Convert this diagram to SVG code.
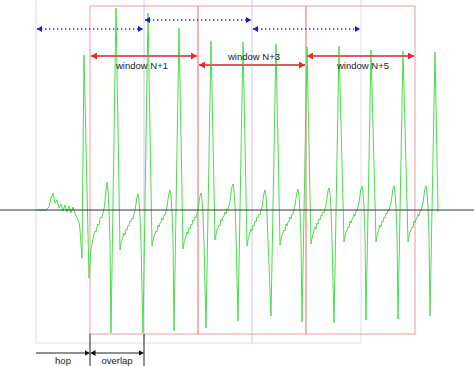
<svg xmlns="http://www.w3.org/2000/svg" width="474" height="366" viewBox="0 0 474 366">
<style>
.bw{fill:none;stroke:#dcdcf4;stroke-width:1}
.rw{fill:none;stroke:#f29a9a;stroke-width:1}
.sig{fill:none;stroke:#4ddc4d;stroke-width:1;stroke-linejoin:round}
.ra{stroke:#e25a5a;stroke-width:2;marker-start:url(#mr);marker-end:url(#mr)}
.ba{stroke:#2a2ad8;stroke-width:1.3;stroke-dasharray:1.3 2.7;marker-start:url(#mb);marker-end:url(#mb)}
.ka{stroke:#222;stroke-width:1}
.t{font-family:"Liberation Sans",Arial,sans-serif;font-size:9.5px;fill:#222;text-anchor:middle}
</style>
<defs>
<marker id="mr" markerUnits="userSpaceOnUse" markerWidth="7" markerHeight="7" refX="6" refY="3.5" orient="auto-start-reverse"><path d="M0,0 L6,3.5 L0,7 z" fill="#e82828"/></marker>
<marker id="mb" markerUnits="userSpaceOnUse" markerWidth="6" markerHeight="6" refX="5" refY="3" orient="auto-start-reverse"><path d="M0,0 L5,3 L0,6 z" fill="#1a1ad0"/></marker>
<marker id="mk" markerUnits="userSpaceOnUse" markerWidth="6" markerHeight="6" refX="5" refY="3" orient="auto-start-reverse"><path d="M0,0 L5,3 L0,6 z" fill="#111"/></marker>
</defs>
<rect width="474" height="366" fill="#fff"/>
<g id="blue-windows">
<rect class="bw" x="36" y="-2" width="108" height="345"/>
<rect class="bw" x="144" y="-2" width="108" height="345"/>
<rect class="bw" x="252" y="-2" width="109" height="345"/>
</g>
<g id="red-windows">
<rect class="rw" x="90" y="6" width="108" height="328"/>
<rect class="rw" x="198" y="6" width="108" height="328"/>
<rect class="rw" x="306" y="6" width="109" height="328"/>
</g>
<g id="signal">
<path class="sig" d="M36,210 L46,210 L49,207 L51,198 L53,193 L55,203 L57,200 L59,208 L61,204 L63,211 L65,205 L67,212 L69,206 L71,213 L73,207 L75,213 L77,218 L79,222 L80,230 L82,258 L84,55 L89,278 L91,250 L93,238 l1,-4 1,-3 1,1 1,-5 1,-3 1,1 1,-6 1,-2 1,1 1,-5 1,-4 1,-8 1,-10 1,-9 1,8 1,20 1,30 L111,333 L116,8 L120,250 l1,-6 1,-4 1,-3 1,-4 1,2 1,-6 1,1 1,-5 1,1 1,-5 1,1 1,-4 1,1 1,-5 1,-3 1,-7 1,-7 1,-3 1,6 1,16 1,28 L143,333 L148,13 L152,246 l1,-5 1,-5 1,-2 1,-3 1,1 1,-7 1,2 1,-4 1,-1 1,-4 1,2 1,-5 1,0 1,-4 1,-4 1,-8 1,-6 1,-3 1,6 1,16 1,28 L174,331 L179,28 L183,249 l1,-6 1,-4 1,-3 1,-4 1,2 1,-6 1,1 1,-5 1,1 1,-5 1,1 1,-4 1,1 1,-5 1,-3 1,-7 1,-7 1,-3 1,6 1,16 1,28 L206,328 L211,41 L215,240 l1,-5 1,-5 1,-2 1,-3 1,1 1,-7 1,2 1,-4 1,-1 1,-4 1,2 1,-5 1,0 1,-4 1,-4 1,-8 1,-6 1,-3 1,6 1,16 1,28 L238,321 L243,42 L247,246 l1,-6 1,-4 1,-3 1,-4 1,2 1,-6 1,1 1,-5 1,1 1,-5 1,1 1,-4 1,1 1,-5 1,-3 1,-7 1,-7 1,-3 1,6 1,16 1,28 L271,316 L276,44 L280,245 l1,-5 1,-5 1,-2 1,-3 1,1 1,-7 1,2 1,-4 1,-1 1,-4 1,2 1,-5 1,0 1,-4 1,-4 1,-8 1,-6 1,-3 1,6 1,16 1,28 L302,322 L307,47 L311,244 l1,-6 1,-4 1,-3 1,-4 1,2 1,-6 1,1 1,-5 1,1 1,-5 1,1 1,-4 1,1 1,-5 1,-3 1,-7 1,-7 1,-3 1,6 1,16 1,28 L334,323 L339,46 L344,242 l1,-5 1,-5 1,-2 1,-3 1,1 1,-7 1,2 1,-4 1,-1 1,-4 1,2 1,-5 1,0 1,-4 1,-4 1,-8 1,-6 1,-3 1,6 1,16 1,28 L366,320 L371,50 L376,242 l1,-6 1,-4 1,-3 1,-4 1,2 1,-6 1,1 1,-5 1,1 1,-5 1,1 1,-4 1,1 1,-5 1,-3 1,-7 1,-7 1,-3 1,6 1,16 1,28 L398,319 L403,51 L408,242 l1,-5 1,-5 1,-2 1,-3 1,1 1,-7 1,2 1,-4 1,-1 1,-4 1,2 1,-5 1,0 1,-4 1,-4 1,-8 1,-6 1,-3 1,6 1,16 1,28 L430,316 L435,52 L438,212"/>
</g>
<g id="baseline">
<line x1="0" y1="210" x2="474" y2="210" stroke="#333" stroke-width="1.2"/>
</g>
<g id="connectors">
<line class="ba" x1="37" y1="29" x2="143" y2="29"/>
<line class="ba" x1="145" y1="20" x2="251" y2="20"/>
<line class="ba" x1="253" y1="29" x2="360" y2="29"/>
<line class="ra" x1="91" y1="56" x2="197" y2="56"/>
<line class="ra" x1="199" y1="65" x2="305" y2="65"/>
<line class="ra" x1="307" y1="56" x2="414" y2="56"/>
<line class="ka" x1="90" y1="334" x2="90" y2="366"/>
<line class="ka" x1="144" y1="334" x2="144" y2="366"/>
<line class="ka" x1="36" y1="353" x2="89.5" y2="353" marker-end="url(#mk)"/>
<line class="ka" x1="90.5" y1="353" x2="143.5" y2="353" marker-start="url(#mk)" marker-end="url(#mk)"/>
</g>
<g id="labels">
<text class="t" x="142" y="69">window N+1</text>
<text class="t" x="254" y="60">window N+3</text>
<text class="t" x="363" y="69">window N+5</text>
<text class="t" x="63" y="364">hop</text>
<text class="t" x="117" y="364">overlap</text>
</g>
</svg>
